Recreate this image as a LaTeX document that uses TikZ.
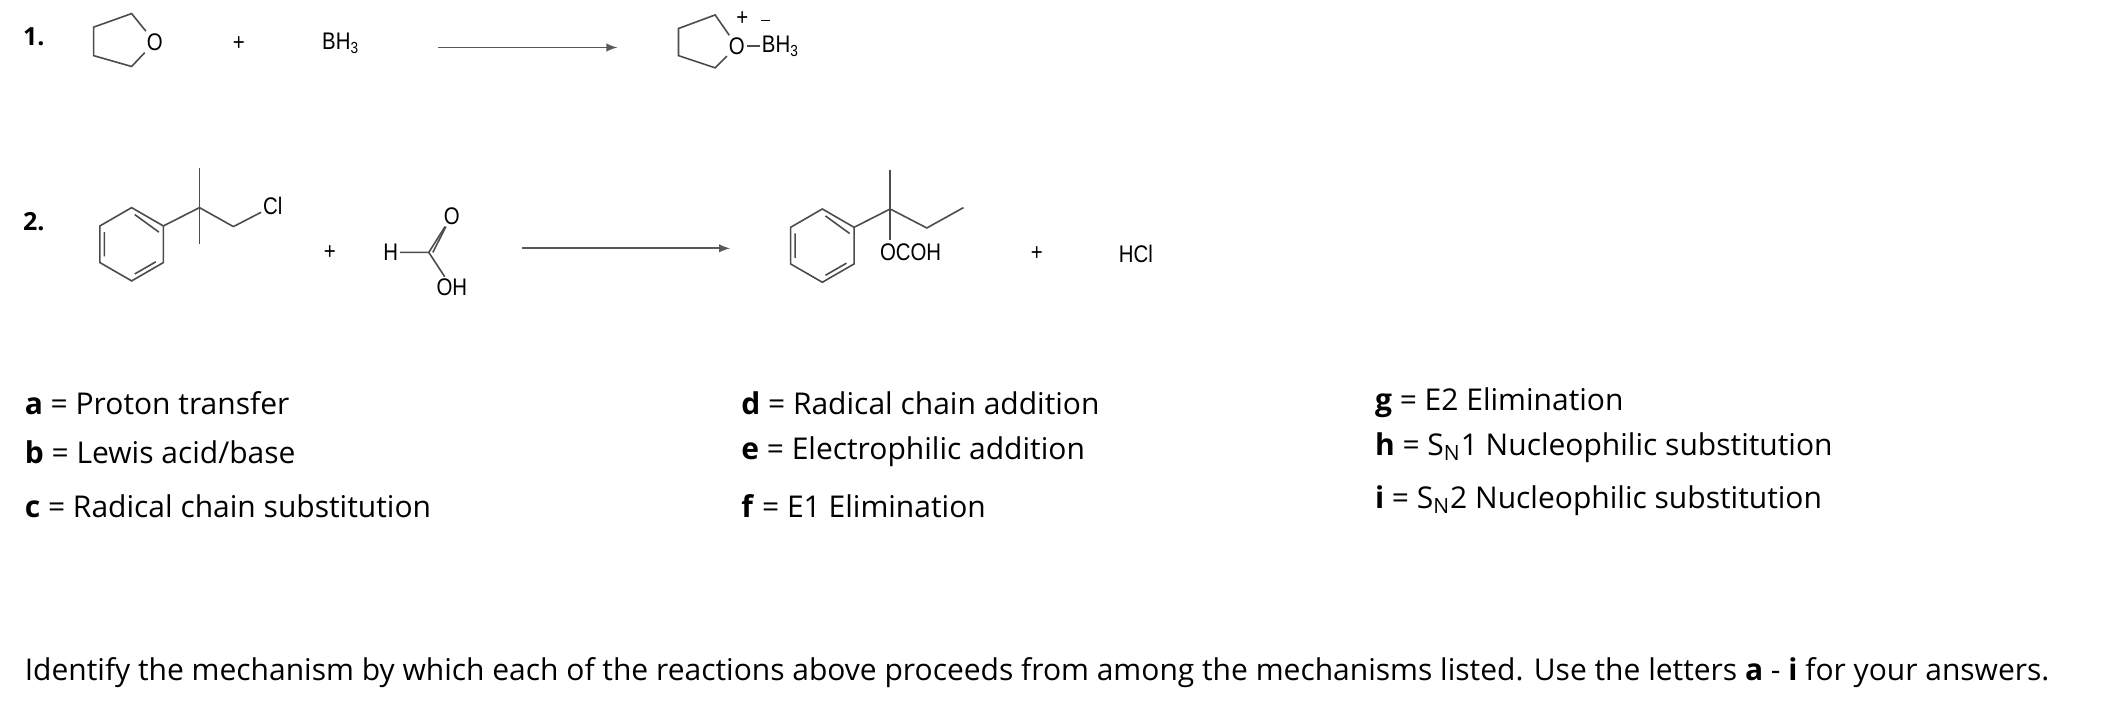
\documentclass[tikz,border=0pt]{standalone}
\usepackage{fontspec}
\setmainfont{Open Sans}
\newfontfamily\chemf{Liberation Sans}
\begin{document}
\begin{tikzpicture}[x=0.6785pt,y=-0.6785pt,
  chem/.style={font=\chemf\fontsize{12}{14}\selectfont,inner sep=1pt,xscale=0.85},
  lst/.style={font=\fontsize{15}{18}\selectfont,anchor=west,inner sep=0pt},
  bnd/.style={line width=0.8pt,gray!60!black},
  arr/.style={line width=0.9pt,gray!70!black,-latex}]
\useasboundingbox (0,0) rectangle (1550.5,527.6);
\node[font=\fontsize{12.5}{14}\selectfont\bfseries] (n1) at (25,27) {1.};
\node[font=\fontsize{12.5}{14}\selectfont\bfseries] (n2) at (25,163) {2.};
% reaction 1
\node[chem] (o1) at (114,31) {O};
\draw[bnd] (o1) -- (97,10) -- (69,20) -- (69,41) -- (97,49) -- (o1);
\node[chem] (p1) at (176,32) {+};
\node[chem] (b1) at (251,32) {BH\textsubscript{3}};
\coordinate (a1s) at (323,35); \coordinate (a1e) at (455,35);
\draw[arr] (a1s) -- (a1e);
\node[chem] (o2) at (543,34) {O};
\draw[bnd] (o2) -- (527,11) -- (500,21) -- (500,41) -- (527,50) -- (o2);
\node[chem] at (547,14) {+};
\node[chem] at (564,15) {\rule{5pt}{0.6pt}};
\node[chem,anchor=west] (b2) at (560,34) {BH\textsubscript{3}};
\draw[bnd] (o2) -- (b2);
% reaction 2 reactant
\begin{scope}[shift={(97,180)}]
\draw[bnd] (90:27) -- (30:27) -- (-30:27) -- (-90:27) -- (-150:27) -- (150:27) -- cycle;
\draw[bnd] (84:22) -- (36:22) (-24:22) -- (-84:22) (-156:22) -- (156:22);
\end{scope}
\coordinate (q1) at (147,153);
\draw[bnd] (120.4,166.5) -- (q1) -- (172,167);
\draw[bnd] (147,124) -- (147,180);
\node[chem] (cl) at (201,152) {Cl};
\draw[bnd] (172,167) -- (cl);
\node[chem] (p2) at (243,186) {+};
\node[chem] (h) at (288,186) {H};
\coordinate (fc) at (316,186);
\node[chem] (fo) at (333,159) {O};
\node[chem] (foh) at (333,212) {OH};
\draw[bnd] (h) -- (fc) -- (foh);
\draw[bnd] (fc) -- (fo);
\draw[bnd] ([xshift=2pt]fc) -- ([xshift=2pt]fo.south west);
\coordinate (a2s) at (385,183); \coordinate (a2e) at (538,183);
\draw[arr] (a2s) -- (a2e);
% product
\begin{scope}[shift={(606,181)}]
\draw[bnd] (90:27) -- (30:27) -- (-30:27) -- (-90:27) -- (-150:27) -- (150:27) -- cycle;
\draw[bnd] (84:22) -- (36:22) (-24:22) -- (-84:22) (-156:22) -- (156:22);
\end{scope}
\coordinate (q2) at (656,154);
\node[chem,anchor=west] (ocoh) at (647,186) {OCOH};
\draw[bnd] (629.4,167.5) -- (q2) -- (683,168) -- (710,153);
\draw[bnd] (656,125) -- (656,177);
\node[chem] (p3) at (764,187) {+};
\node[chem] (hcl) at (837,187) {HCl};
% list
\node[lst] (la) at (18,297) {\textbf{a} = Proton transfer};
\node[lst] (lb) at (18,333) {\textbf{b} = Lewis acid/base};
\node[lst] (lc) at (18,373) {\textbf{c} = Radical chain substitution};
\node[lst] (ld) at (546,297) {\textbf{d} = Radical chain addition};
\node[lst] (le) at (546,333) {\textbf{e} = Electrophilic addition};
\node[lst] (lf) at (546,373) {\textbf{f} = E1 Elimination};
\node[lst] (lg) at (1013,297) {\textbf{g} = E2 Elimination};
\node[lst] (lh) at (1013,330) {\textbf{h} = S\textsubscript{N}1 Nucleophilic substitution};
\node[lst] (li) at (1013,369) {\textbf{i} = S\textsubscript{N}2 Nucleophilic substitution};
\node[lst] (q) at (18,496) {Identify the mechanism by which each of the reactions above proceeds from among the mechanisms listed. Use the letters \textbf{a} - \textbf{i} for your answers.};
\end{tikzpicture}
\end{document}
